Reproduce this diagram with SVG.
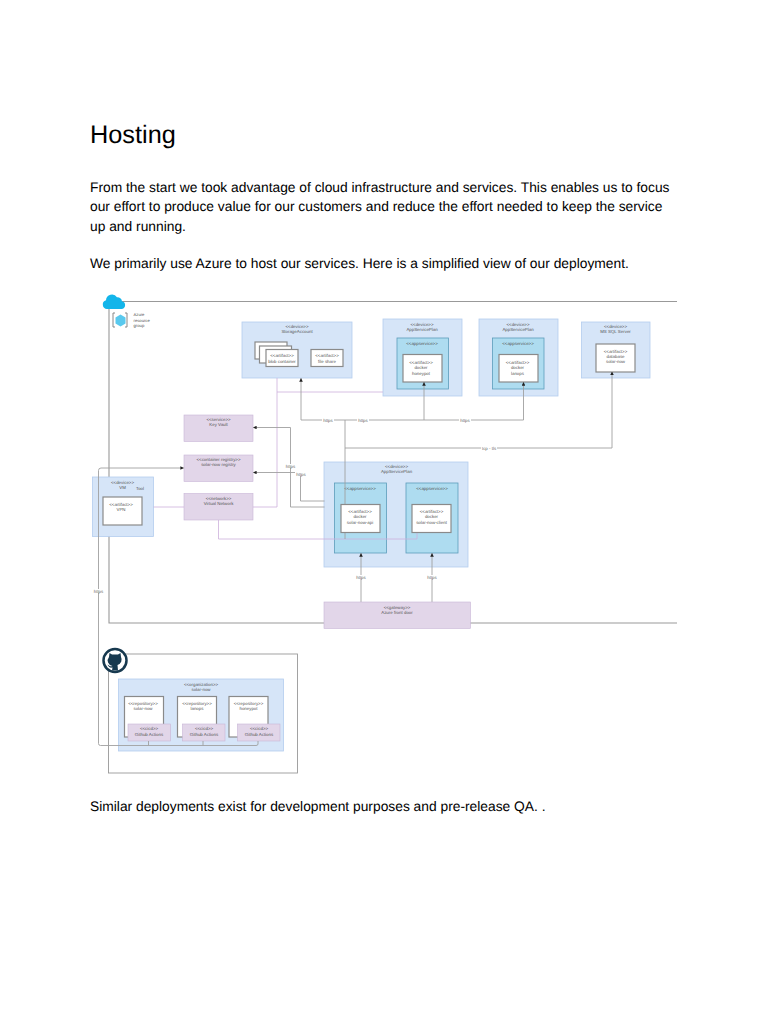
<svg xmlns="http://www.w3.org/2000/svg" width="768" height="1024" viewBox="0 0 768 1024">
<style>
text{font-family:"Liberation Sans",Arial,sans-serif;fill:#000;text-rendering:geometricPrecision}
.s{font-size:4.4px;text-anchor:middle;fill:#555}
.l{font-size:4.4px;text-anchor:middle;fill:#666}
.b{font-size:13.8px}
.dev{fill:#d6e5f8;stroke:#b4cdee;stroke-width:.8}
.app{fill:#aedcf0;stroke:#5d9dbb;stroke-width:.8}
.art{fill:#fff;stroke:#8a8a8a;stroke-width:1.200}
.pur{fill:#e2d6e9;stroke:#c8b5d6;stroke-width:.6}
.g{fill:none;stroke:#a0a0a0;stroke-width:.9}
.p{fill:none;stroke:#cdb0dc;stroke-width:.8}
.bg{fill:#fff}
</style>
<defs><marker id="a" markerWidth="4" markerHeight="4" refX="3.500" refY="2" orient="auto"><path d="M0 0L4 2L0 4z" fill="#222"/></marker></defs>
<rect width="768" height="1024" fill="#fff"/>
<g id="page-text">
<text x="90" y="143" font-size="25.300">Hosting</text>
<text class="b" x="90" y="192">From the start we took advantage of cloud infrastructure and services. This enables us to focus</text>
<text class="b" x="90" y="211">our effort to produce value for our customers and reduce the effort needed to keep the service</text>
<text class="b" x="90" y="231">up and running.</text>
<text class="b" x="90" y="268">We primarily use Azure to host our services. Here is a simplified view of our deployment.</text>
<text class="b" x="90" y="811">Similar deployments exist for development purposes and pre-release QA. .</text>
</g>
<g id="azure-frame">
<path d="M677 301.500H109V623H677" fill="none" stroke="#999" stroke-width="1.100"/>
<path d="M107 309a4.500 4.500 0 0 1-1-8.800a6 6 0 0 1 11-3a4.500 4.500 0 0 1 5 4a4 4 0 0 1 0 7.800z" fill="#13b5ea"/>
<path d="M115 313h-2v14h2M125 313h2v14h-2" fill="none" stroke="#888" stroke-width="1"/>
<path d="M120.500 314.500l5 3v6l-5 3l-5-3v-6z" fill="#59c9ee"/>
<text font-size="4.200" style="fill:#555" x="133.500" y="316">Azure</text>
<text font-size="4.200" style="fill:#555" x="133.500" y="321.500">resource</text>
<text font-size="4.200" style="fill:#555" x="133.500" y="327">group</text>
</g>
<g id="github-frame">
<rect x="108.500" y="654" width="189" height="119" fill="none" stroke="#999" stroke-width=".9"/>
</g>
<g id="nodes">
<g id="storage"><rect class="dev" x="242" y="322" width="110" height="56"/>
<text class="s" x="297" y="328">&lt;&lt;device&gt;&gt;</text><text class="s" x="297" y="333">StorageAccount</text>
<rect class="art" x="255" y="342" width="32" height="17"/><rect class="art" x="259.500" y="346" width="32" height="17"/><rect class="art" x="266" y="349.500" width="32" height="17"/>
<text class="s" x="282" y="357">&lt;&lt;artifact&gt;&gt;</text><text class="s" x="282" y="362.500">blob container</text>
<rect class="art" x="311" y="349.500" width="32" height="17"/>
<text class="s" x="327" y="357">&lt;&lt;artifact&gt;&gt;</text><text class="s" x="327" y="362.500">file share</text></g>
<g id="plan-honeypot"><rect class="dev" x="383" y="319" width="79" height="77"/>
<text class="s" x="422" y="325.500">&lt;&lt;device&gt;&gt;</text><text class="s" x="422" y="330.500">AppServicePlan</text>
<rect class="app" x="397" y="338" width="51.500" height="51"/><text class="s" x="422" y="344.500">&lt;&lt;appservice&gt;&gt;</text>
<rect class="art" x="403" y="354.500" width="39" height="27.500"/>
<text class="s" x="421" y="364">&lt;&lt;artifact&gt;&gt;</text><text class="s" x="421" y="369">docker</text><text class="s" x="421" y="374.500">honeypot</text></g>
<g id="plan-lanops"><rect class="dev" x="479" y="319" width="79" height="77"/>
<text class="s" x="518" y="325.500">&lt;&lt;device&gt;&gt;</text><text class="s" x="518" y="330.500">AppServicePlan</text>
<rect class="app" x="492.500" y="338" width="51.500" height="51"/><text class="s" x="518" y="344.500">&lt;&lt;appservice&gt;&gt;</text>
<rect class="art" x="499" y="354.500" width="39" height="27.500"/>
<text class="s" x="517.500" y="364">&lt;&lt;artifact&gt;&gt;</text><text class="s" x="517.500" y="369">docker</text><text class="s" x="517.500" y="374.500">lanops</text></g>
<g id="sql"><rect class="dev" x="581.500" y="322" width="68.500" height="56"/>
<text class="s" x="615.500" y="328">&lt;&lt;device&gt;&gt;</text><text class="s" x="615.500" y="333">MS SQL Server</text>
<rect class="art" x="596" y="344" width="39" height="28"/>
<text class="s" x="615.500" y="352.500">&lt;&lt;artifact&gt;&gt;</text><text class="s" x="615.500" y="357.500">database</text><text class="s" x="615.500" y="363">solar-now</text></g>
<g id="keyvault"><rect class="pur" x="184" y="415" width="69" height="26.500"/>
<text class="s" x="218.500" y="420.500">&lt;&lt;service&gt;&gt;</text><text class="s" x="218.500" y="425.500">Key Vault</text></g>
<g id="registry"><rect class="pur" x="184" y="455" width="69" height="26.500"/>
<text class="s" x="218.500" y="461">&lt;&lt;container registry&gt;&gt;</text><text class="s" x="218.500" y="466">solar-now registry</text></g>
<g id="vnet"><rect class="pur" x="184" y="493.500" width="69" height="26.500"/>
<text class="s" x="218.500" y="499.500">&lt;&lt;network&gt;&gt;</text><text class="s" x="218.500" y="504.500">Virtual Network</text></g>
<g id="vm"><rect class="dev" x="92.500" y="477" width="61" height="59.500"/>
<text class="s" x="122.500" y="483.500">&lt;&lt;device&gt;&gt;</text><text class="s" x="122.500" y="488.500">VM</text><text class="s" x="140" y="490">Tool</text>
<rect class="art" x="103" y="497" width="39" height="28"/>
<text class="s" x="121" y="506">&lt;&lt;artifact&gt;&gt;</text><text class="s" x="121" y="511">VPN</text></g>
<g id="plan-main"><rect class="dev" x="324" y="462" width="144" height="105"/>
<text class="s" x="396.500" y="468">&lt;&lt;device&gt;&gt;</text><text class="s" x="396.500" y="473">AppServicePlan</text>
<rect class="app" x="334.500" y="483" width="52" height="70"/><text class="s" x="360" y="489.500">&lt;&lt;appservice&gt;&gt;</text>
<rect class="app" x="406" y="483" width="52" height="70"/><text class="s" x="432" y="489.500">&lt;&lt;appservice&gt;&gt;</text>
</g>
<g id="org"><rect class="dev" x="118.500" y="679" width="165" height="72"/>
<text class="s" x="201" y="685.500">&lt;&lt;organization&gt;&gt;</text><text class="s" x="201" y="690.500">solar-now</text>
<rect class="art" x="124.500" y="696.500" width="39" height="40.500"/><text class="s" x="143" y="705">&lt;&lt;repository&gt;&gt;</text><text class="s" x="143" y="710">solar-now</text>
<rect class="art" x="177.500" y="696.500" width="39" height="40.500"/><text class="s" x="197" y="705">&lt;&lt;repository&gt;&gt;</text><text class="s" x="197" y="710">lanops</text>
<rect class="art" x="229" y="696.500" width="39" height="40.500"/><text class="s" x="248.500" y="705">&lt;&lt;repository&gt;&gt;</text><text class="s" x="248.500" y="710">honeypot</text>
<rect class="pur" x="128" y="724" width="42.500" height="17"/><text class="s" x="149" y="730">&lt;&lt;cicd&gt;&gt;</text><text class="s" x="149" y="735.500">Github Actions</text>
<rect class="pur" x="182.500" y="724" width="42.500" height="17"/><text class="s" x="204" y="730">&lt;&lt;cicd&gt;&gt;</text><text class="s" x="204" y="735.500">Github Actions</text>
<rect class="pur" x="237.500" y="724" width="42.500" height="17"/><text class="s" x="259" y="730">&lt;&lt;cicd&gt;&gt;</text><text class="s" x="259" y="735.500">Github Actions</text></g>
</g>
<g id="connectors">
<path class="p" d="M277 378V507H253M277 392H383M153.500 507H184M218.500 520V539H417V532.500"/>
<path class="g" d="M345 420V539M345 448H612V372" marker-end="url(#a)"/>
<path class="g" d="M345 420H301V378.500" marker-end="url(#a)"/>
<path class="g" d="M345 420H424V382.500" marker-end="url(#a)"/>
<path class="g" d="M424 420H523.500V382.500" marker-end="url(#a)"/>
<path class="g" d="M324.500 507H290.500V427.500H253.500" marker-end="url(#a)"/>
<path class="g" d="M324.500 501H300.500V472.500H253.500" marker-end="url(#a)"/>
<path class="g" d="M361 602V553.500" marker-end="url(#a)"/>
<path class="g" d="M432 602V553.500" marker-end="url(#a)"/>
<path class="g" d="M258 741V744Q258 745.500 256 745.500H100.500Q98.500 745.500 98.500 743.500V470.500Q98.500 468 101 468H183.500" marker-end="url(#a)"/>
<path class="g" d="M148.500 741V745.500M203 741V745.500"/>
<rect class="bg" x="322" y="418" width="12" height="4"/><text class="l" x="328" y="421.500">https</text>
<rect class="bg" x="357" y="418" width="12" height="4"/><text class="l" x="363" y="421.500">https</text>
<rect class="bg" x="459" y="418" width="12" height="4"/><text class="l" x="465" y="421.500">https</text>
<rect class="bg" x="481" y="446" width="16" height="4"/><text class="l" x="489" y="449.500">tcp - tls</text>
<rect class="bg" x="285" y="464" width="12" height="4"/><text class="l" x="290.500" y="467.500">https</text>
<rect class="bg" x="295" y="472" width="12" height="4"/><text class="l" x="301" y="475.500">https</text>
<rect class="bg" x="355" y="575" width="12" height="4"/><text class="l" x="361" y="578.500">https</text>
<rect class="bg" x="426" y="575" width="12" height="4"/><text class="l" x="432" y="578.500">https</text>
<rect class="bg" x="93" y="589" width="12" height="4"/><text class="l" x="98.500" y="592.500">https</text>
</g>
<g id="artifacts-over-lines">
<g id="api"><rect class="art" x="341" y="504.500" width="39" height="28"/>
<text class="s" x="360" y="513">&lt;&lt;artifact&gt;&gt;</text><text class="s" x="360" y="518">docker</text><text class="s" x="360" y="523.500">solar-now-api</text></g>
<g id="client"><rect class="art" x="412" y="504.500" width="39" height="28"/>
<text class="s" x="431.500" y="513">&lt;&lt;artifact&gt;&gt;</text><text class="s" x="431.500" y="518">docker</text><text class="s" x="431.500" y="523.500">solar-now-client</text></g>
<g id="frontdoor"><rect class="pur" x="324" y="602" width="146.500" height="26.500"/>
<text class="s" x="397" y="608.500">&lt;&lt;gateway&gt;&gt;</text><text class="s" x="397" y="613.500">Azure front door</text></g>
<g id="github-icon"><circle cx="115" cy="660.500" r="11.500" fill="#fff" stroke="#17394f" stroke-width="2.500"/>
<path d="M109 657l.5-4l2.500 1.500h6l2.500-1.500l.5 4a5.500 5.500 0 0 1-3.500 8l.5 5.500h-6l.5-3c-2.500.5-4-.5-5-3c1.500 1 3 2.500 5 1.500a5.500 5.500 0 0 1-3.500-9z" fill="#17394f"/></g>
</g>
</svg>
